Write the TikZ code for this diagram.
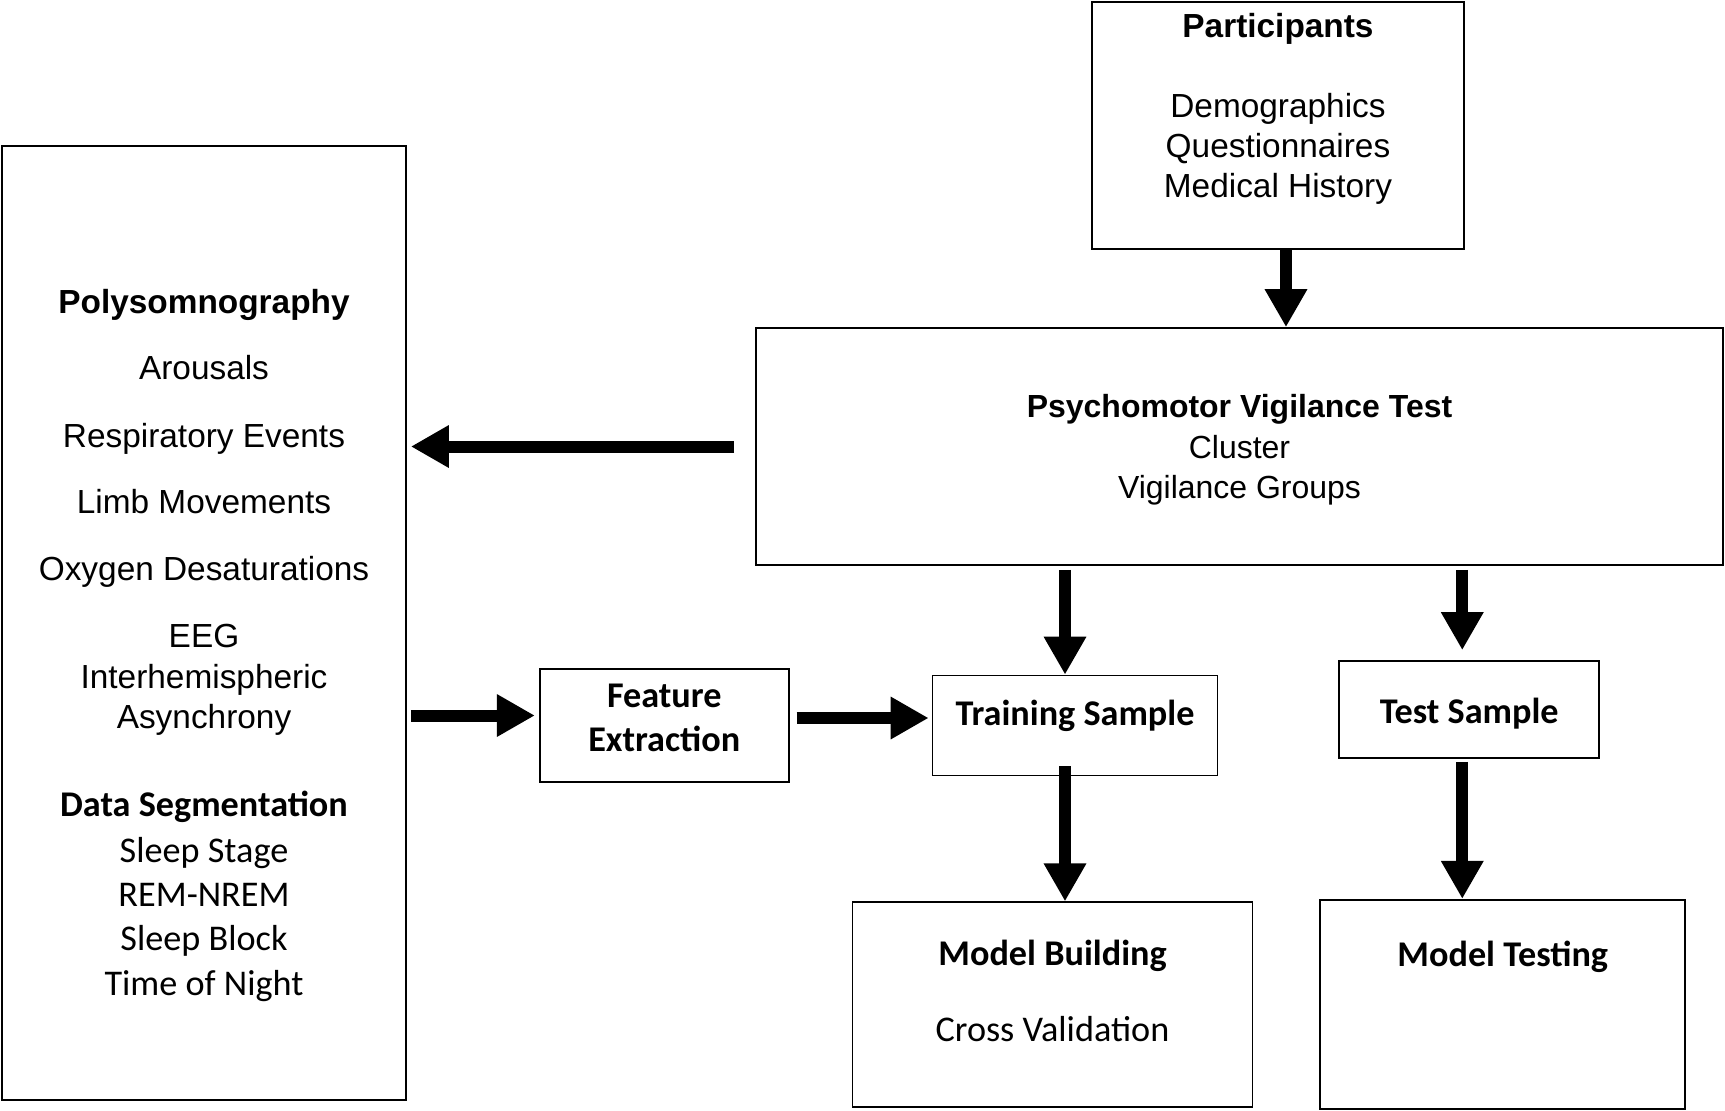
\documentclass[tikz,border=0pt]{standalone}
\usepackage{fontspec}
\setmainfont{Liberation Sans}
\newfontfamily\calibrifont{Carlito}
\usetikzlibrary{arrows.meta, positioning}
\newcommand{\sanstext}{\fontsize{9.5}{11.5}\selectfont}
\newcommand{\calitext}{\calibrifont\fontsize{10.3}{12.5}\selectfont}
\tikzset{
  flowbox/.style={
    draw, line width=0.5pt, align=center, inner sep=2pt,
    font=\sanstext
  },
  flowtext/.style={
    align=center, inner sep=0pt, font=\sanstext
  },
  flowarrow/.style={
    -{Triangle[length=3.8mm, width=4mm]}, line width=1.2mm
  },
}

\begin{document}
\begin{tikzpicture}
  \useasboundingbox (0,0) rectangle (17.25,-11.10);

  % ── Polysomnography ──
  \node[flowbox, minimum width=4.04cm, minimum height=9.54cm]
    (psg) at (2.04,-6.23) {};
  \node[flowtext] (psgtext) at ([yshift=-2.25mm]psg.center) {
    \textbf{Polysomnography}\\[7.3pt]
    Arousals\\[7.8pt]
    Respiratory Events\\[7.3pt]
    Limb Movements\\[7.6pt]
    Oxygen Desaturations\\[7.6pt]
    EEG\\
    Interhemispheric\\
    Asynchrony\\[13.5pt]
    {\calitext\bfseries Data Segmentation}\\[1.6pt]
    {\calitext Sleep Stage}\\[1pt]
    {\calitext REM-NREM}\\[1pt]
    {\calitext Sleep Block}\\[1.3pt]
    {\calitext Time of Night}};

  % ── Vigilance test and participants ──
  \node[flowbox, minimum width=9.67cm, minimum height=2.37cm, text depth=0pt,
    font=\fontsize{9.1}{11.5}\selectfont]
    (pvt) at (12.395,-4.465) {\textbf{Psychomotor Vigilance Test}\\Cluster\\Vigilance Groups};

  \node[flowbox, minimum width=3.72cm, minimum height=2.47cm,
    above=0.77cm of pvt.north, xshift=3.85mm] (part) {};
  \node[flowtext] (parttext) at ([yshift=1.65mm]part.center) {
    \textbf{Participants}\\[11pt]
    Demographics\\
    Questionnaires\\
    Medical History};

  % ── Samples ──
  \node[flowbox, font=\calitext\bfseries, minimum width=2.49cm, minimum height=1.13cm,
    text depth=1.5mm, right=1.32cm of psg, yshift=-10.25mm] (feat) {Feature\\Extraction};

  \node[flowbox, font=\calitext\bfseries, minimum width=2.85cm, minimum height=1cm,
    text height=2.5mm, text depth=2.5mm, right=1.42cm of feat] (train) {Training Sample};

  \node[flowbox, font=\calitext\bfseries, minimum width=2.6cm, minimum height=0.97cm,
    text height=3.2mm, text depth=0.4mm, right=1.2cm of train, yshift=1.6mm] (test) {Test Sample};

  % ── Models ──
  \node[flowbox, minimum width=4cm, minimum height=2.05cm,
    below=1.25cm of train, xshift=-2.25mm] (build) {};
  \node[flowtext, font=\calitext] (buildtext) at ([yshift=1.35mm]build.center)
    {\textbf{Model Building}\\[9.1pt]Cross Validation};

  \node[flowbox, minimum width=3.65cm, minimum height=2.09cm,
    below=1.4cm of test, xshift=3.35mm] (mtest) {};
  \node[flowtext, font=\calitext\bfseries] (mtesttext) at ([yshift=4.7mm]mtest.center)
    {Model Testing};

  % ── Arrows ──
  \coordinate (partout) at ([xshift=0.8mm]part.south);
  \coordinate (featin)  at ([yshift=1mm]feat.west);
  \coordinate (featout) at ([yshift=0.75mm]feat.east);
  \coordinate (trainin) at ([xshift=-1mm]train.north);
  \coordinate (testin)  at ([xshift=-0.7mm]test.north);

  \draw[flowarrow] (partout) -- (partout |- pvt.north);
  \draw[flowarrow, shorten <=2.1mm, shorten >=0.4mm] (pvt.west) -- (pvt.west -| psg.east);
  \draw[flowarrow, shorten <=0.4mm, shorten >=0.4mm] (featin -| psg.east) -- (featin);
  \draw[flowarrow, shorten <=0.7mm, shorten >=0.3mm] (featout) -- (featout -| train.west);
  \draw[flowarrow, shorten <=0.4mm] (trainin |- pvt.south) -- (trainin);
  \draw[flowarrow, shorten <=0.4mm, shorten >=1mm] (testin |- pvt.south) -- (testin);
  \draw[flowarrow, shorten <=-1mm] (trainin |- train.south) -- (trainin |- build.north);
  \draw[flowarrow, shorten <=0.3mm] (testin |- test.south) -- (testin |- mtest.north);
\end{tikzpicture}
\end{document}
